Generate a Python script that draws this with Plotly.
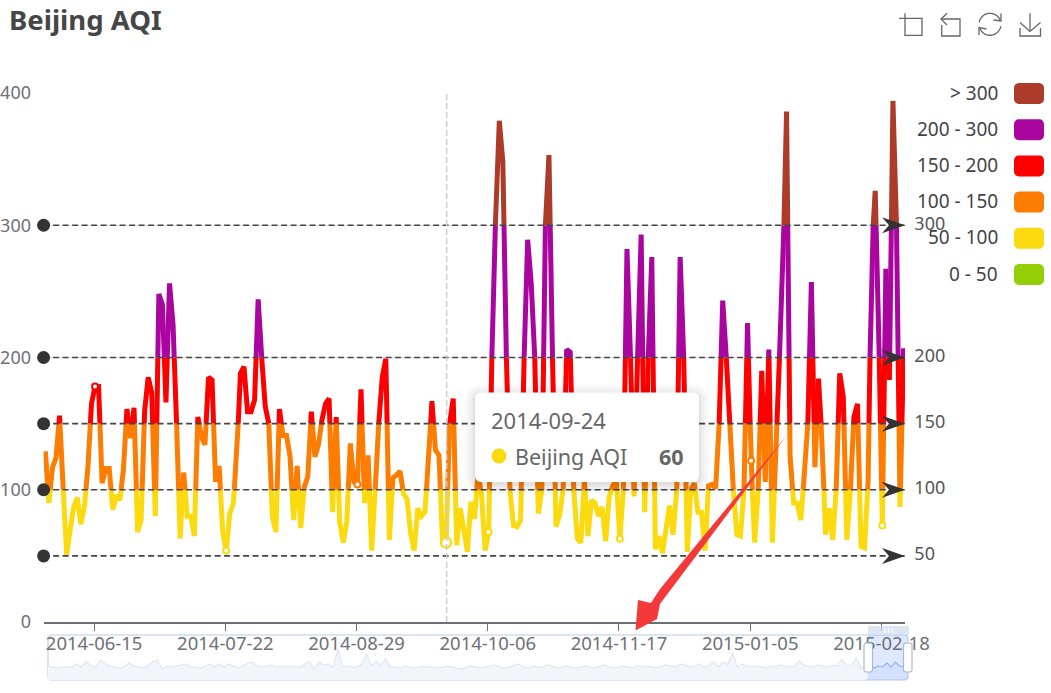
import math
import plotly.graph_objects as go

# ---------- data ----------
title_text = "Beijing AQI"
aqi_values = [129,90,117,124,156,102,51,70,87,94,74,87,117,165,178,178,105,116,116,85,96,92,115,161,139,162,68,77,160,185,173,80,248,240,166,256,225,150,63,113,80,80,65,155,140,134,185,183,106,118,68,54,82,90,127,188,193,159,159,168,244,200,163,150,80,68,161,141,141,125,77,118,71,
102,110,159,125,134,153,165,169,83,155,75,60,76,135,106,104,176,90,126,54,100,150,185,199,62,109,111,114,97,93,67,54,86,80,83,120,167,130,126,61,60,150,169,58,86,67,53,91,78,113,96,54,68,
215,310,379,348,200,100,73,72,77,200,289,256,200,82,100,300,353,200,72,81,100,206,204,100,63,60,107,65,92,90,80,87,61,95,103,107,63,100,282,200,95,200,293,83,200,276,55,65,52,70,88,66,95,276,200,53,100,105,83,83,54,103,104,101,150,243,200,150,100,66,65,100,226,122,60,100,190,106,206,60,130,200,270,386,125,90,90,77,110,150,257,117,184,138,66,86,62,100,188,170,62,100,155,165,57,56,107,280,326,220,73,267,183,394,300,87,207]
tick_positions = [14,51,88,125,162,199,236]
tick_labels = ["2014-06-15","2014-07-22","2014-08-29","2014-10-06","2014-11-17","2015-01-05","2015-02-18"]
y_ticks = [0,100,200,300,400]
mark_levels = [50,100,150,200,300]
band_edges = [0,50,100,150,200,300,1000]
band_colors = ["#93CE07","#FBDB0F","#FC7D02","#FD0100","#AA069F","#AC3B2A"]
band_labels = ["0 - 50","50 - 100","100 - 150","150 - 200","200 - 300","> 300"]
hover_index = 113
hover_date = "2014-09-24"
overview_values = [14,13,12,13,13,13,16,13,19,14,13,20,16,14,13,12,13,17,14,13,12,14,18,20,11,14,13,14,15,16,13,13,12,14,16,13,16,13,16,14,12,14,17,18,14,13,14,15,13,14,13,14,13,13,16,19,11,18,15,16,13,31,13,14,13,13,16,26,14,19,14,21,13,13,12,14,13,12,13,14,13,13,12,13,14,13,12,11,13,14,13,
12,13,14,15,13,12,13,15,16,13,12,14,13,13,15,14,12,13,14,13,12,13,14,13,12,14,15,13,12,13,14,13,12,15,13,14,13,12,14,15,14,13,16,15,13,14,16,13,14,18,13,18,16,27,13,16,14,13,14,13,12,14,13,15,14,13,14,19,15,14,13,15,14,13,15,14,21,14,15,22,12,13]
selected_values = [13,15,12,14,13,17,13,18,14,13,16]

# ---------- canvas helpers ----------
OX, OY = 0, 0
W, H = 1051, 693
LEFT, RIGHT, TOP, BOTTOM = 43.6, 905, 93, 622
X_MIN, X_MAX = -0.5, 242.4
SL, SR, ST, SB = 48, 908, 635, 680
def fx(p): return (p-OX)/W
def fy(p): return 1-(p-OY)/H
def path(pts, close=False):
    s = "M " + " L ".join(f"{fx(x):.5f},{fy(y):.5f}" for x, y in pts)
    return s + (" Z" if close else "")
def rrect(x0, y0, x1, y1, r):
    n = 6; pts = []
    for cx, cy, a0 in [(x1-r,y0+r,-90),(x1-r,y1-r,0),(x0+r,y1-r,90),(x0+r,y0+r,180)]:
        for k in range(n+1):
            a = math.radians(a0+90*k/n)
            pts.append((cx+r*math.cos(a), cy+r*math.sin(a)))
    return path(pts, True)
def pshape(d, fill=None, line=None, width=1, layer="above", opacity=1):
    return dict(type="path", xref="paper", yref="paper", path=d, fillcolor=fill or "rgba(0,0,0,0)",
                line=dict(color=line or "rgba(0,0,0,0)", width=width if line else 0), layer=layer, opacity=opacity)
def label(x, y, text, size, color, anchor="left", bold=False):
    return dict(xref="paper", yref="paper", x=fx(x), y=fy(y), text=f"<b>{text}</b>" if bold else text, showarrow=False,
                xanchor=anchor, yanchor="middle", font=dict(size=size, color=color, family=FONT))
FONT = "Noto Sans"
GREY = "#6E7079"

def band_of(v):
    for k in range(len(band_colors)):
        if v <= band_edges[k+1]:
            return k
    return len(band_colors)-1

# split polyline at band edges
def band_segments(vals):
    xs = [[] for _ in band_colors]; ys = [[] for _ in band_colors]
    for i in range(len(vals)-1):
        a, b = vals[i], vals[i+1]
        cuts = [(i, a)]
        lo, hi = min(a,b), max(a,b)
        crossing = [e for e in band_edges[1:-1] if lo < e < hi]
        crossing.sort(reverse=a > b)
        for e in crossing:
            cuts.append((i+(e-a)/(b-a), e))
        cuts.append((i+1, b))
        for (x0,y0),(x1,y1) in zip(cuts, cuts[1:]):
            k = band_of((y0+y1)/2)
            if xs[k] and xs[k][-1] == x0 and ys[k][-1] == y0:
                xs[k].append(x1); ys[k].append(y1)
            else:
                if xs[k]:
                    xs[k].append(None); ys[k].append(None)
                xs[k] += [x0,x1]; ys[k] += [y0,y1]
    return xs, ys

fig = go.Figure()
xs, ys = band_segments(aqi_values)
for k, c in enumerate(band_colors):
    if xs[k]:
        fig.add_trace(go.Scatter(x=xs[k], y=ys[k], mode="lines", line=dict(color=c, width=5), connectgaps=False,
                                 hoverinfo="skip", name=band_labels[k]))
# symbols on labelled points
sym_idx = tick_positions
fig.add_trace(go.Scatter(x=sym_idx, y=[aqi_values[i] for i in sym_idx], mode="markers", hoverinfo="skip",
    marker=dict(size=6, color="white", line=dict(width=2, color=[band_colors[band_of(aqi_values[i])] for i in sym_idx]))))
fig.add_trace(go.Scatter(x=[hover_index], y=[aqi_values[hover_index]], mode="markers", hoverinfo="skip",
    marker=dict(size=10, color="white", line=dict(width=2.4, color=band_colors[band_of(aqi_values[hover_index])]))))
# mark lines
for v in mark_levels:
    fig.add_trace(go.Scatter(x=[X_MIN,X_MAX], y=[v,v], mode="lines", hoverinfo="skip", line=dict(color="#444", width=1.6, dash="6px,3.5px")))
fig.add_trace(go.Scatter(x=[X_MIN]*len(mark_levels), y=mark_levels, mode="markers", hoverinfo="skip", cliponaxis=False,
    marker=dict(size=13, color="#333")))
fig.add_trace(go.Scatter(x=[X_MAX]*len(mark_levels), y=mark_levels, mode="text", hoverinfo="skip", cliponaxis=False,
    text=[f"  {v}" for v in mark_levels], textposition="middle right", textfont=dict(size=18, color="#555", family=FONT)))
# crosshair
fig.add_trace(go.Scatter(x=[hover_index+0.15,hover_index+0.15], y=[0,400], mode="lines", hoverinfo="skip", line=dict(color="#ccc", width=1.5, dash="6px,3px")))
# overview
ov_x = list(range(len(overview_values)))
sel_x = [len(overview_values)-1+(i)*(40/4.5)/(len(selected_values)-1) for i in range(len(selected_values))]
fig.add_trace(go.Scatter(x=ov_x, y=overview_values, xaxis="x2", yaxis="y2", mode="lines", hoverinfo="skip",
    fill="tozeroy", fillcolor="#F3F5FB", line=dict(color="#DDE4F4", width=1.1)))
fig.add_trace(go.Scatter(x=sel_x, y=selected_values, xaxis="x2", yaxis="y2", mode="lines", hoverinfo="skip",
    fill="tozeroy", fillcolor="rgba(180,205,250,0.25)", line=dict(color="#8FB0F7", width=1.1)))

shapes, anns = [], []
# arrow heads at the end of the mark lines
for v in mark_levels:
    shapes.append(dict(type="path", xsizemode="pixel", ysizemode="pixel", xref="x", yref="y", xanchor=X_MAX, yanchor=v,
                       path="M -23,-8 L -16,0 L -23,8 L 0,0 Z", fillcolor="#333", line=dict(width=0), layer="above"))
# slider
shapes.append(pshape(rrect(SL,ST,SR,SB,4), fill="rgba(0,0,0,0)", line="#D2DBEE", width=1.6, layer="below"))
shapes.append(pshape(path([(868,ST),(908,ST),(908,SB),(868,SB)],True), fill="rgba(135,175,274,0.28)", layer="below"))
shapes.append(pshape(path([(868,626),(909,626),(909,635),(868,635)],True), fill="rgba(210,219,238,0.7)"))
for xm in (885,888.5,892):
    shapes.append(pshape(path([(xm,628.5),(xm,632.5)]), line="white", width=1.2))
shapes.append(pshape(rrect(864,643,872.5,672,2.5), fill="white", line="#ACB8D1", width=1.2))
shapes.append(pshape(rrect(903.5,643,912,672,2.5), fill="white", line="#ACB8D1", width=1.2))
# tooltip
for g, a in ((11,0.012),(9,0.014),(7,0.016),(5,0.02),(3,0.025),(1.5,0.03)):
    shapes.append(pshape(rrect(475-g,392.5-g+2,699+g,482+g+2,6+g), fill=f"rgba(0,0,0,{a})"))
shapes.append(pshape(rrect(475,392.5,699,482,6), fill="white"))
dot = [(499+7.5*math.cos(t/16*math.pi*2),456+7.5*math.sin(t/16*math.pi*2)) for t in range(16)]
shapes.append(pshape(path(dot,True), fill=band_colors[band_of(aqi_values[hover_index])]))
anns += [label(489,420,hover_date,22,"#666"), label(513,456,"Beijing AQI",21.5,"#666"), label(685.5,456,str(aqi_values[hover_index]),21.5,"#666","right",True)]
# visual map legend
for k, (c, t) in enumerate(zip(band_colors, band_labels)):
    yc = 274.5-36.2*k
    shapes.append(pshape(rrect(1014,yc-10.5,1044,yc+10.5,5), fill=c))
    anns.append(label(1000,yc-1,t,19,"#444","right"))
# toolbox
TB = "#666"
shapes.append(pshape(path([(899,18.3),(922,18.3),(922,35.3),(905,35.3),(905,13.3)]), line=TB, width=1.3))
shapes.append(pshape(path([(941.7,25),(941.7,36),(960,36),(960,19),(941,19)]), line=TB, width=1.3))
shapes.append(pshape(path([(947,13.3),(941,19),(947,25)]), line=TB, width=1.3))
def arc(cx,cy,r,a0,a1,n=14):
    return [(cx+r*math.cos(math.radians(a0+(a1-a0)*i/n)),cy+r*math.sin(math.radians(a0+(a1-a0)*i/n))) for i in range(n+1)]
shapes.append(pshape(path(arc(990,24.3,11,190,340)), line=TB, width=1.3))
shapes.append(pshape(path(arc(990,24.3,11,10,160)), line=TB, width=1.3))
shapes.append(pshape(path([(1001,13.5),(1001,21),(993.5,20)]), line=TB, width=1.3))
shapes.append(pshape(path([(979,35),(979,27.5),(986.5,29)]), line=TB, width=1.3))
shapes.append(pshape(path([(1030,13.3),(1030,31.5)]), line=TB, width=1.3))
shapes.append(pshape(path([(1020,22.5),(1030,31.5),(1040.5,22.5)]), line=TB, width=1.3))
shapes.append(pshape(path([(1020,28),(1020,36),(1040.5,36),(1040.5,28)]), line=TB, width=1.3))
# hand-drawn red arrow
shapes.append(pshape(path([(787,435),(672,588),(660,604),(657,619),(635.5,630.5),(638,600),(651,603),(660,589)],True), fill="#F5393B"))

fig.update_layout(
    width=W, height=H, margin=dict(l=0,r=0,t=0,b=0,autoexpand=False), paper_bgcolor="white", plot_bgcolor="white",
    showlegend=False, hovermode=False, dragmode=False,
    title=dict(text=f"<b>{title_text}</b>", x=fx(9), y=fy(20), xanchor="left", yanchor="middle", xref="paper", yref="paper",
               font=dict(size=27.5, color="#464646", family=FONT)),
    font=dict(family=FONT),
    xaxis=dict(domain=[fx(LEFT),fx(RIGHT)], range=[X_MIN,X_MAX], tickmode="array", tickvals=[p-0.25 for p in tick_positions], ticktext=tick_labels, automargin=False,
               showgrid=False, zeroline=False, showline=True, linecolor=GREY, linewidth=1.6, ticks="outside", ticklen=7, tickcolor=GREY, tickwidth=1.3,
               tickfont=dict(size=18.5, color=GREY, family=FONT), tickangle=0, anchor="y", ticklabelstandoff=-3),
    yaxis=dict(domain=[fy(BOTTOM),fy(TOP)], range=[0,400], tickmode="array", tickvals=y_ticks, showgrid=True, gridcolor="#E0E6F1", gridwidth=1.2, automargin=False,
               zeroline=False, showline=False, ticks="outside", ticklen=8, tickcolor="rgba(0,0,0,0)", tickfont=dict(size=18, color=GREY, family=FONT), anchor="x"),
    xaxis2=dict(domain=[fx(SL),fx(868+40)], range=[0,len(overview_values)-1+40/4.5], visible=False, anchor="y2", fixedrange=True, automargin=False),
    yaxis2=dict(domain=[fy(SB),fy(ST)], range=[0,45], visible=False, anchor="x2", fixedrange=True, automargin=False),
    shapes=shapes, annotations=anns,
)
fig.write_html("out.html", config={"displayModeBar": False},
               post_script="document.body.style.margin='0';document.body.style.overflow='hidden';document.documentElement.style.overflow='hidden';")
